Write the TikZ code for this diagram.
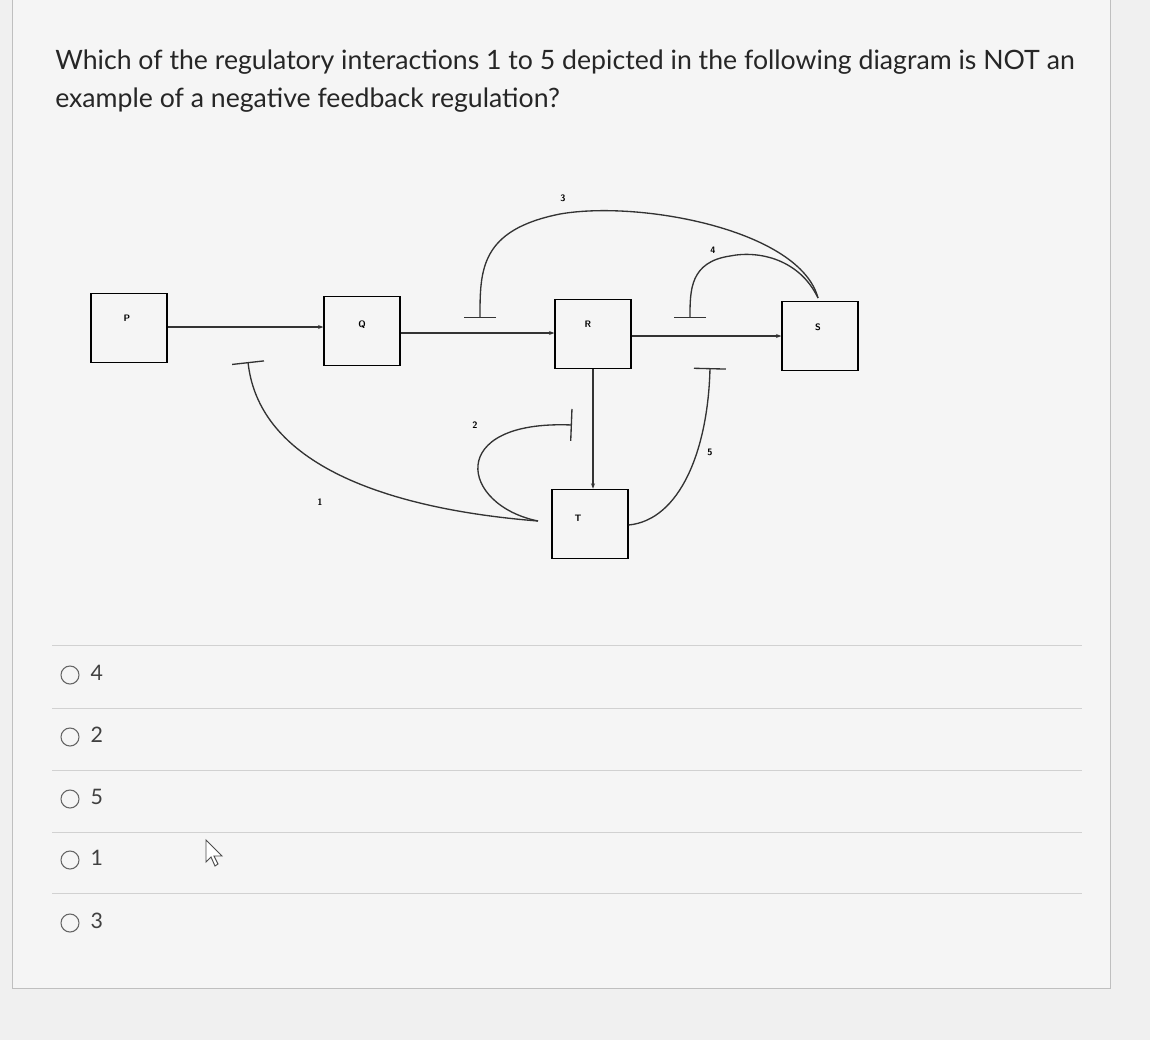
\documentclass[tikz,border=0pt]{standalone}
\usepackage{fontspec}
\setmainfont{Lato}
\usetikzlibrary{arrows.meta}
\begin{document}
\begin{tikzpicture}[x=0.75pt,y=-0.75pt,
  box/.style={draw,line width=1pt,minimum width=57pt,minimum height=52pt,inner sep=0,font=\fontsize{7}{8}\bfseries\sffamily},
  lnk/.style={line width=1pt,draw=black!80},
  act/.style={lnk,-{Stealth[length=4pt,width=3pt]}},
  inh/.style={lnk,-{Bar[width=24pt,line width=1pt]}},
  num/.style={font=\fontsize{7}{8}\bfseries\sffamily},
  sep/.style={draw=black!18,line width=0.7pt},
  opt/.style={font=\fontsize{16}{18}\selectfont\color{black!75},anchor=west},
  radio/.style={draw=black!60,circle,line width=0.8pt,minimum size=13.5pt,inner sep=0}]
\fill[black!6] (0,0) rectangle (1150,1040);
\useasboundingbox (0,0) rectangle (1150,1040);
\fill[white!96!black] (12,0) rectangle (1110,988);
\draw[black!25,line width=0.7pt] (12,-5) -- (12,988) -- (1110,988) -- (1110,-5);
\node[anchor=north west,align=left,font=\fontsize{20}{28.5}\selectfont,text=black!85,inner sep=0] (q) at (55,50)
 {Which of the regulatory interactions 1 to 5 depicted in the following diagram is NOT an\\example of a negative feedback regulation?};
% boxes
\node[box] (P) at (129,328) {};
\node[box] (Q) at (362,331) {};
\node[box] (R) at (593,334) {};
\node[box] (S) at (820,336) {};
\node[box] (T) at (590,524) {};
\node[num] (lP) at (127,318) {P};
\node[num] (lQ) at (362,325) {Q};
\node[num] (lR) at (588,324) {R};
\node[num] (lS) at (818,327) {S};
\node[num] (lT) at (578,518) {T};
% activations
\draw[act] (P.east |- 0,327) -- (Q.west |- 0,327);
\draw[act] (Q.east |- 0,333) -- (R.west |- 0,333);
\draw[act] (R.east |- 0,336) -- (S.west |- 0,336);
\draw[act] (R.south) -- (T.north -| R.south);
% inhibitions
\coordinate (b3) at (480,318);
\coordinate (b4) at (690,318);
\coordinate (b1) at (248,362);
\coordinate (b5) at (710,368);
\coordinate (b2) at (572,425);
\coordinate (St) at (818,298);
\coordinate (Tl) at (538,521);
\draw[inh] (St) .. controls (800,230) and (640,200) .. (560,214) .. controls (480,230) and (480,270) .. (b3);
\draw[inh] (St) .. controls (800,260) and (760,250) .. (730,256) .. controls (690,262) and (690,290) .. (b4);
\draw[inh] (Tl) .. controls (400,510) and (260,470) .. (b1);
\draw[inh] (T.east |- 0,525) .. controls (680,520) and (708,450) .. (b5);
\draw[inh] (Tl) .. controls (460,505) and (445,420) .. (b2);
% labels
\node[num] (n3) at (563,198) {3};
\node[num] (n4) at (713,250) {4};
\node[num] (n2) at (475,425) {2};
\node[num] (n5) at (710,452) {5};
\node[num] (n1) at (320,502) {1};
% separators
\foreach \y in {645,708,770,832,893} \draw[sep] (52,\y) -- (1082,\y);
\foreach \y/\t in {675/4,737/2,799/5,860/1,923/3} {
  \node[radio] (r\t) at (70,\y) {};
  \node[opt] (o\t) at (86,\y-2) {\t};
}
% cursor
\draw[black!70,line width=0.7pt,fill=white] (206,840) -- (206,862) -- (211,857) -- (215,866) -- (218,864) -- (214,856) -- (222,856) -- cycle;
\end{tikzpicture}
\end{document}
